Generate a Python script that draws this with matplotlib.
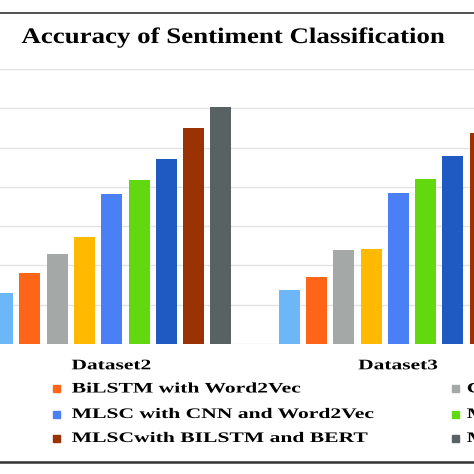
import numpy as np
import matplotlib
matplotlib.use("Agg")
import matplotlib.pyplot as plt
from matplotlib.patches import Rectangle
from matplotlib.lines import Line2D
from matplotlib.patheffects import AbstractPathEffect
from matplotlib.transforms import Affine2D

# data (units: grid steps of 10, axis baseline at 0)
datasets = ["Dataset2", "Dataset3"]
methods = [
    "LSTM with Word2Vec",
    "BiLSTM with Word2Vec",
    "CNN with Word2Vec",
    "BiLSTM with BERT",
    "MLSC with CNN and Word2Vec",
    "MLSC with BiLSTM and Word2Vec",
    "MLSC with CNN and BERT",
    "MLSCwith BILSTM and BERT",
    "MLSC with CNN-BiLSTM and BERT",
]
colors = ["#6db6f7", "#ff6519", "#a4a9a8", "#ffba00", "#4a7ff6",
          "#62d80e", "#1f5ac3", "#9b3203", "#596263"]
acc_dataset2 = [12.9, 18.0, 22.9, 27.2, 38.1, 41.7, 47.2, 55.1, 60.4]
acc_dataset3 = [13.7, 17.0, 23.9, 24.1, 38.5, 42.0, 47.9, 53.6, 58.0]
values = np.array([acc_dataset2, acc_dataset3])

W, H = 474, 474
serif = "Liberation Serif"


class Stretch(AbstractPathEffect):
    # the source image is stretched sideways, widen glyphs around x0 (pixels)
    def __init__(self, sx, x0):
        super().__init__()
        self.sx, self.x0 = sx, x0

    def draw_path(self, renderer, gc, tpath, affine, rgbFace=None):
        t = affine + Affine2D().translate(-self.x0, 0).scale(self.sx, 1).translate(self.x0, 0)
        renderer.draw_path(gc, tpath, t, rgbFace)


fig = plt.figure(figsize=(4.74, 4.74), dpi=100)

# axes spans whole width (chart is cropped on both sides)
ax_bottom = (H - 344) / H
ax_top = (H - 69) / H
ax = fig.add_axes([0, ax_bottom, 1, ax_top - ax_bottom])

group_px = [111.7, 398.3]
x = np.arange(len(datasets))
step = 27.3 / 286.6
width = 21.0 / 286.6
for i, m in enumerate(methods):
    ax.bar(x + (i - 4) * step, values[:, i], width, color=colors[i], label=m, zorder=3)

ax.set_xlim(-111.7 / 286.6, (W - 111.7) / 286.6)
ax.set_ylim(0, 70)
ax.set_yticks(np.arange(0, 71, 10))
ax.yaxis.grid(True, color="#e3e3e3", linewidth=1.0, zorder=0)
ax.tick_params(axis="y", left=False, labelleft=False)
ax.set_xticks(x)
ax.set_xticklabels(datasets, fontfamily=serif, fontweight="bold", fontsize=10.5)
ax.tick_params(axis="x", length=0, pad=11)
for lab, gx in zip(ax.get_xticklabels(), group_px):
    lab.set_path_effects([Stretch(1.47, gx)])
for s in ax.spines.values():
    s.set_visible(False)

fig.text(234 / W, 1 - 38 / H, "Accuracy of Sentiment Classification",
         ha="center", va="center", fontfamily=serif, fontweight="bold", fontsize=16,
         path_effects=[Stretch(1.21, 234)])

# legend, 3 columns (first column falls outside the crop)
col_x = [53.3 - 398, 53.3, 452.3]
text_x = [71.7 - 398, 71.7, 466.7]
row_base = [392.5, 418, 442]
for i, m in enumerate(methods):
    r, c = i // 3, i % 3
    yb = row_base[r]
    fig.patches.append(Rectangle((col_x[c] / W, 1 - (yb - 0.5) / H), 7 / W, 7 / H,
                                 transform=fig.transFigure, color=colors[i], figure=fig))
    fig.text(text_x[c] / W, 1 - yb / H, m, ha="left", va="baseline",
             fontfamily=serif, fontweight="bold", fontsize=10.5,
             path_effects=[Stretch(1.48, text_x[c])])

# frame lines of the original chart
fig.add_artist(Line2D([0, 1], [1 - 13.3 / H] * 2, color="#333333", linewidth=1.2))
fig.add_artist(Line2D([0, 1], [1 - 462 / H] * 2, color="#333333", linewidth=1.8))

fig.savefig("out.png", dpi=100)
